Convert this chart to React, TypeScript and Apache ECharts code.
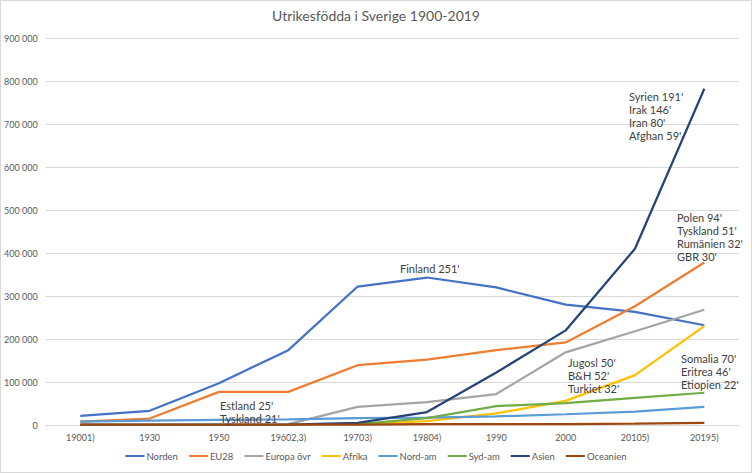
import React, { useEffect, useRef } from "react";
import * as echarts from "echarts";

const categories = ["19001)", "1930", "1950", "19602,3)", "19703)", "19804)", "1990", "2000", "20105)", "20195)"];
const norden = [21000, 33000, 97000, 174000, 322000, 343000, 320000, 280000, 263000, 232000];
const eu28 = [8000, 15000, 77000, 77000, 139000, 152000, 174000, 192000, 276000, 378000];
const europaOvr = [null, null, null, 2000, 42000, 53000, 72000, 169000, 218000, 268000];
const afrika = [null, null, null, null, 1000, 9000, 27000, 56000, 116000, 230000];
const nordAm = [8000, 10000, 12000, 13000, 16000, 17000, 20000, 25000, 31000, 42000];
const sydAm = [null, null, null, null, 2000, 16000, 44000, 51000, 63000, 75000];
const asien = [1000, 1000, 1000, 1000, 5000, 30000, 122000, 220000, 410000, 782000];
const oceanien = [1000, 1000, 1000, 1000, 1000, 2000, 2000, 2000, 3000, 5000];
const yTicks = { min: 0, max: 900000, interval: 100000 };

const seriesDefs = [
  { name: "Norden", data: norden, color: "#4472C4" },
  { name: "EU28", data: eu28, color: "#ED7D31" },
  { name: "Europa övr", data: europaOvr, color: "#A5A5A5" },
  { name: "Afrika", data: afrika, color: "#FFC000" },
  { name: "Nord-am", data: nordAm, color: "#5B9BD5" },
  { name: "Syd-am", data: sydAm, color: "#70AD47" },
  { name: "Asien", data: asien, color: "#264478" },
  { name: "Oceanien", data: oceanien, color: "#9E480E" },
];

const annotations = [
  { x: 399, y: 267, lines: ["Finland 251'"] },
  { x: 628, y: 95, lines: ["Syrien 191'", "Irak 146'", "Iran 80'", "Afghan 59'"] },
  { x: 676, y: 216, lines: ["Polen 94'", "Tyskland 51'", "Rumänien 32'", "GBR 30'"] },
  { x: 567, y: 361, lines: ["Jugosl 50'", "B&H 52'", "Turkiet 32'"] },
  { x: 680, y: 357, lines: ["Somalia 70'", "Eritrea 46'", "Etiopien 22'"] },
  { x: 219, y: 404, lines: ["Estland 25'", "Tyskland 21'"] },
];

const FONT = "Lato, 'Open Sans', sans-serif";

export default function App() {
  const ref = useRef<HTMLDivElement>(null);
  useEffect(() => {
    if (!ref.current) return;
    const chart = echarts.init(ref.current, null, { renderer: "svg" });
    const graphics: any[] = [];
    annotations.forEach((a) => {
      a.lines.forEach((t, i) => {
        graphics.push({
          type: "text",
          x: a.x,
          y: a.y + i * 13.3,
          style: {
            text: t,
            fill: "#404040",
            font: `11px ${FONT}`,
            textVerticalAlign: "middle",
          },
          z: 100,
        });
      });
    });
    chart.setOption({
      animation: false,
      backgroundColor: "#ffffff",
      title: {
        text: "Utrikesfödda i Sverige 1900-2019",
        left: "center",
        top: 2,
        textStyle: { fontFamily: FONT, fontSize: 14, fontWeight: "normal", color: "#595959" },
      },
      legend: {
        bottom: 6,
        left: "center",
        itemWidth: 19,
        itemHeight: 2,
        itemGap: 11,
        icon: "rect",
        textStyle: { fontFamily: FONT, fontSize: 9.5, color: "#595959", padding: [0, 0, 0, -3] },
        data: seriesDefs.map((s) => s.name),
      },
      grid: { left: 44, right: 12, top: 37, bottom: 47 },
      xAxis: {
        type: "category",
        data: categories,
        boundaryGap: true,
        axisLine: { lineStyle: { color: "#d9d9d9" } },
        axisTick: { show: false },
        axisLabel: { fontFamily: FONT, fontSize: 9, color: "#595959", margin: 8 },
      },
      yAxis: {
        type: "value",
        min: yTicks.min,
        max: yTicks.max,
        interval: yTicks.interval,
        axisLine: { show: false },
        axisTick: { show: false },
        splitLine: { lineStyle: { color: "#d9d9d9" } },
        axisLabel: {
          fontFamily: FONT,
          fontSize: 9,
          color: "#595959",
          margin: 8,
          formatter: (v: number) => String(v).replace(/\B(?=(\d{3})+(?!\d))/g, " "),
        },
      },
      series: seriesDefs.map((s) => ({
        name: s.name,
        type: "line",
        data: s.data,
        showSymbol: false,
        symbol: "none",
        connectNulls: false,
        lineStyle: { color: s.color, width: 2.25 },
        itemStyle: { color: s.color },
      })),
      graphic: graphics,
    });
    return () => chart.dispose();
  }, []);
  return (
    <div
      ref={ref}
      style={{
        position: "fixed",
        left: 0,
        top: 0,
        width: 752,
        height: 473,
        boxSizing: "border-box",
        border: "1px solid #d9d9d9",
      }}
    />
  );
}
